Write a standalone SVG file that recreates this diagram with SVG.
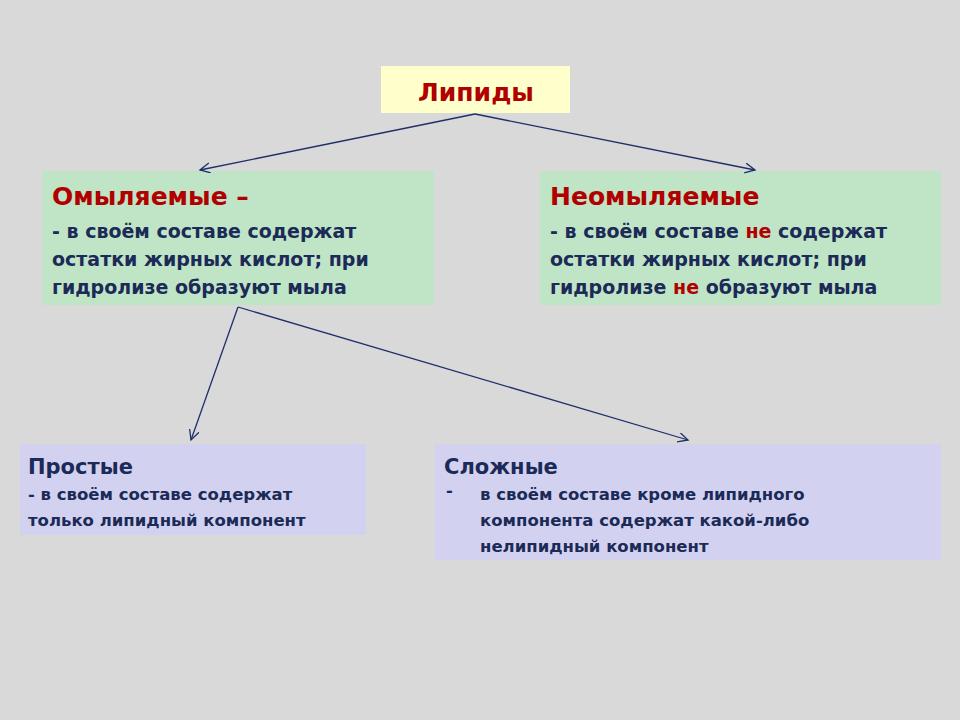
<svg xmlns="http://www.w3.org/2000/svg" width="960" height="720" viewBox="0 0 960 720">
<style>
text{font-family:"DejaVu Sans","Liberation Sans",sans-serif;font-weight:bold;fill:#1b2a56}
.h{font-size:25px}.b{font-size:19px}.r{fill:#b00000}
.s{font-size:21px}.t{font-size:16.5px}
.g{fill:#c0e4c6}.p{fill:#d2d2f0}
.c line{stroke:#1f2f6b;stroke-width:1.3;marker-end:url(#a)}
</style>
<defs><marker id="a" markerWidth="12" markerHeight="12" refX="10" refY="5" orient="auto" markerUnits="userSpaceOnUse"><path d="M0,0 L10,5 L0,10" fill="none" stroke="#1f2f6b" stroke-width="1.3"/></marker></defs>
<rect width="960" height="720" fill="#d9d9d9"/>
<g id="lipidy"><rect x="381" y="66" width="189" height="47" fill="#ffffcc"/><text x="476" y="101" text-anchor="middle" class="h r">Липиды</text></g>
<g id="omyl"><rect class="g" x="42" y="171" width="392" height="134"/>
<text x="52" y="205" class="h r">Омыляемые –</text>
<text x="52" y="238" class="b">- в своём составе содержат</text>
<text x="52" y="266" class="b">остатки жирных кислот; при</text>
<text x="52" y="294" class="b">гидролизе образуют мыла</text></g>
<g id="neomyl"><rect class="g" x="540" y="171" width="401" height="134"/>
<text x="550" y="205" class="h r">Неомыляемые</text>
<text x="550" y="238" class="b">- в своём составе <tspan class="r">не</tspan> содержат</text>
<text x="550" y="266" class="b">остатки жирных кислот; при</text>
<text x="550" y="294" class="b">гидролизе <tspan class="r">не</tspan> образуют мыла</text></g>
<g id="prostye"><rect class="p" x="20" y="444" width="346" height="91"/>
<text x="28" y="474" class="s">Простые</text>
<text x="28" y="500" class="t">- в своём составе содержат</text>
<text x="28" y="526" class="t">только липидный компонент</text></g>
<g id="slozhnye"><rect class="p" x="435" y="444" width="506" height="116"/>
<text x="444" y="474" class="s">Сложные</text>
<text x="446" y="496" class="t">-</text>
<text x="480" y="500" class="t">в своём составе кроме липидного</text>
<text x="480" y="526" class="t">компонента  содержат какой-либо</text>
<text x="480" y="552" class="t">нелипидный компонент</text></g>
<g id="connectors" class="c">
<line x1="475" y1="114" x2="200" y2="170"/>
<line x1="475" y1="114" x2="755" y2="170"/>
<line x1="238" y1="307" x2="191" y2="440"/>
<line x1="238" y1="307" x2="688" y2="440"/>
</g>
</svg>
